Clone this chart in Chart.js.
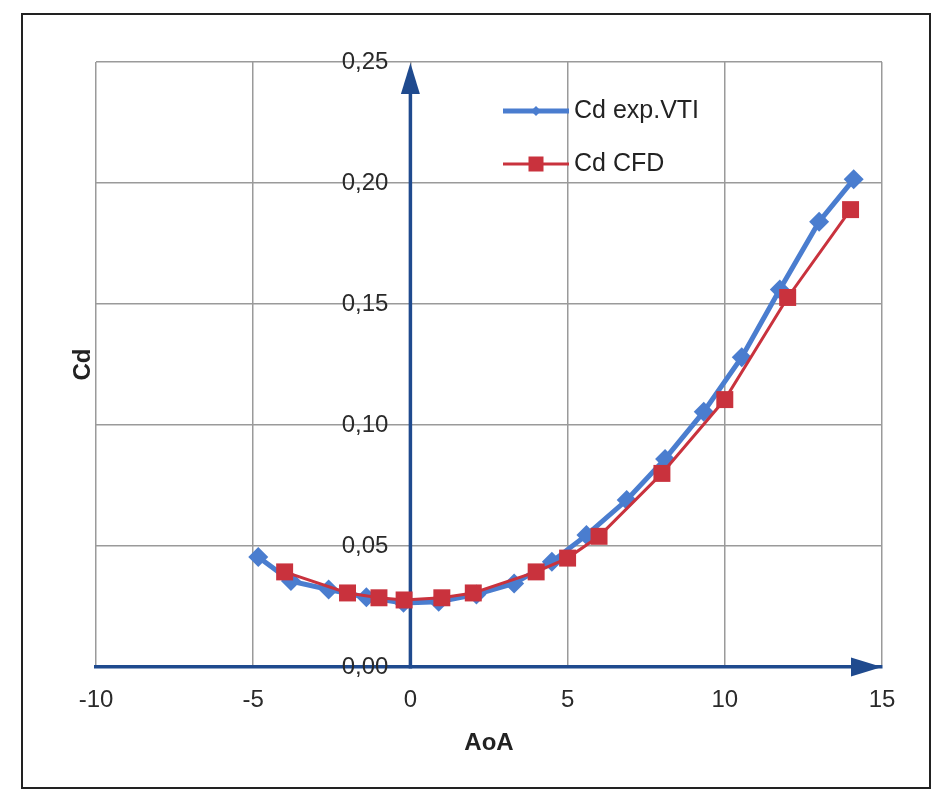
<!DOCTYPE html>
<html><head><meta charset="utf-8">
<script src="https://cdn.jsdelivr.net/npm/chart.js@4.4.1/dist/chart.umd.min.js"></script>
<style>html,body{margin:0;padding:0;background:#fff;} canvas{display:block;}</style>
</head><body>
<canvas id="c" width="950" height="806" style="width:950px;height:806px"></canvas>
<script>
// ---- data ----
const aoaExp = [-4.84, -3.8, -2.6, -1.4, -0.22, 0.9, 2.1, 3.3, 4.5, 5.6, 6.88, 8.1, 9.33, 10.54, 11.75, 13.0, 14.1];
const cdExp  = [0.0455, 0.0355, 0.032, 0.0288, 0.0265, 0.027, 0.030, 0.0345, 0.0435, 0.0545, 0.069, 0.086, 0.1055, 0.128, 0.156, 0.184, 0.2015];
const aoaCfd = [-4, -2, -1, -0.2, 1, 2, 4, 5, 6, 8, 10, 12, 14];
const cdCfd  = [0.0393, 0.0306, 0.0286, 0.0277, 0.0286, 0.0306, 0.0393, 0.045, 0.054, 0.080, 0.1105, 0.1527, 0.189];
const xTickLabels = ['-10', '-5', '0', '5', '10', '15'];
const yTickLabels = ['0,00', '0,05', '0,10', '0,15', '0,20', '0,25'];
const seriesNames = ['Cd exp.VTI', 'Cd CFD'];

const BLUE = '#4a7dcf';
const RED = '#c9323d';
const AXIS = '#1f4a8e';
const GRID = '#9a9a9a';
const FONT = "'Liberation Sans', Arial, sans-serif";

const toPts = (xs, ys) => xs.map((x, i) => ({x: x, y: ys[i]}));

const framePlugin = {
  id: 'frame',
  beforeDraw(chart) {
    const ctx = chart.ctx;
    ctx.save();
    ctx.fillStyle = '#fff';
    ctx.fillRect(0, 0, chart.width, chart.height);
    ctx.strokeStyle = '#222';
    ctx.lineWidth = 2;
    ctx.strokeRect(22, 14, 908, 774);
    ctx.restore();
  }
};

// vertical axis line through AoA = 0 (the tick labels sit just left of it)
const yAxisLinePlugin = {
  id: 'yAxisLine',
  beforeDatasetsDraw(chart) {
    const xs = chart.scales.x, ys = chart.scales.y;
    const ctx = chart.ctx;
    const x0 = xs.getPixelForValue(0);
    ctx.save();
    ctx.strokeStyle = AXIS;
    ctx.lineWidth = 3.5;
    ctx.beginPath();
    ctx.moveTo(x0, ys.getPixelForValue(0) + 1.5);
    ctx.lineTo(x0, ys.getPixelForValue(0.25) + 10);
    ctx.stroke();
    ctx.restore();
  }
};

const arrowPlugin = {
  id: 'arrows',
  afterDraw(chart) {
    const xs = chart.scales.x, ys = chart.scales.y;
    const ctx = chart.ctx;
    const x0 = xs.getPixelForValue(0);
    const yTop = ys.getPixelForValue(0.25);
    const y0 = ys.getPixelForValue(0);
    const xEnd = xs.getPixelForValue(15);
    ctx.save();
    ctx.fillStyle = AXIS;
    ctx.beginPath();
    ctx.moveTo(x0, yTop + 1);
    ctx.lineTo(x0 - 9.5, yTop + 32);
    ctx.lineTo(x0 + 9.5, yTop + 32);
    ctx.closePath();
    ctx.fill();
    ctx.beginPath();
    ctx.moveTo(xEnd, y0);
    ctx.lineTo(xEnd - 31, y0 - 9.5);
    ctx.lineTo(xEnd - 31, y0 + 9.5);
    ctx.closePath();
    ctx.fill();
    ctx.restore();
  }
};

const legendPlugin = {
  id: 'customLegend',
  afterDraw(chart) {
    const ctx = chart.ctx;
    const ds = chart.data.datasets;
    const rows = [111, 164];
    ctx.save();
    ds.forEach((d, i) => {
      const y = rows[i];
      ctx.strokeStyle = d.borderColor;
      ctx.lineWidth = d.borderWidth;
      ctx.beginPath();
      ctx.moveTo(503, y);
      ctx.lineTo(569, y);
      ctx.stroke();
      ctx.fillStyle = d.backgroundColor;
      if (d.pointStyle === 'rectRot') {
        ctx.beginPath();
        ctx.moveTo(536 - 5, y); ctx.lineTo(536, y - 5); ctx.lineTo(536 + 5, y); ctx.lineTo(536, y + 5);
        ctx.closePath(); ctx.fill();
      } else {
        ctx.fillRect(536 - 7.5, y - 7.5, 15, 15);
      }
      ctx.fillStyle = '#222';
      ctx.font = '25px ' + FONT;
      ctx.textBaseline = 'middle';
      ctx.textAlign = 'left';
      ctx.fillText(d.label, 574, y);
    });
    ctx.restore();
  }
};

new Chart(document.getElementById('c'), {
  type: 'scatter',
  data: {
    datasets: [
      {
        label: seriesNames[0],
        data: toPts(aoaExp, cdExp),
        showLine: true,
        borderColor: BLUE,
        backgroundColor: BLUE,
        borderWidth: 5,
        pointStyle: 'rectRot',
        pointRadius: 10,
        pointBorderWidth: 0,
        pointHoverRadius: 10,
        tension: 0,
        order: 1
      },
      {
        label: seriesNames[1],
        data: toPts(aoaCfd, cdCfd),
        showLine: true,
        borderColor: RED,
        backgroundColor: RED,
        borderWidth: 3,
        pointStyle: 'rect',
        pointRadius: 12,
        pointBorderWidth: 0,
        pointHoverRadius: 12,
        tension: 0,
        order: 0
      }
    ]
  },
  options: {
    responsive: false,
    animation: false,
    devicePixelRatio: 1,
    layout: { padding: { left: 0, top: 62, right: 68, bottom: 0 } },
    plugins: { legend: { display: false }, tooltip: { enabled: false } },
    scales: {
      x: {
        type: 'linear',
        position: 'bottom',
        min: -10, max: 15,
        afterFit(s) { s.height = 139; },
        ticks: {
          stepSize: 5,
          padding: 19,
          color: '#2a2a2a',
          font: { family: FONT, size: 24 },
          callback: (v) => xTickLabels[Math.round((v + 10) / 5)]
        },
        grid: { color: GRID, lineWidth: 1.5, drawTicks: false },
        border: { display: true, color: AXIS, width: 3.5 },
        title: {
          display: true, text: 'AoA', color: '#222',
          font: { family: FONT, size: 24, weight: 'bold' },
          padding: { top: 0, bottom: 48 }
        }
      },
      y: {
        type: 'linear',
        position: { x: -0.7 },
        min: 0, max: 0.25,
        afterFit(s) { s.width = 0; },
        ticks: {
          stepSize: 0.05,
          color: '#2a2a2a',
          font: { family: FONT, size: 24 },
          callback: (v) => yTickLabels[Math.round(v / 0.05)]
        },
        grid: { color: GRID, lineWidth: 1.5, drawTicks: false },
        border: { display: false }
      },
      yTitle: {
        type: 'linear',
        position: 'left',
        axis: 'y',
        min: 0, max: 0.25,
        afterFit(s) { s.width = 96; },
        ticks: { display: false },
        grid: { display: false },
        border: { display: false },
        title: {
          display: true, text: 'Cd', color: '#222',
          font: { family: FONT, size: 24, weight: 'bold' },
          padding: { top: 69, bottom: 0 }
        }
      }
    }
  },
  plugins: [framePlugin, yAxisLinePlugin, arrowPlugin, legendPlugin]
});
</script></body></html>
